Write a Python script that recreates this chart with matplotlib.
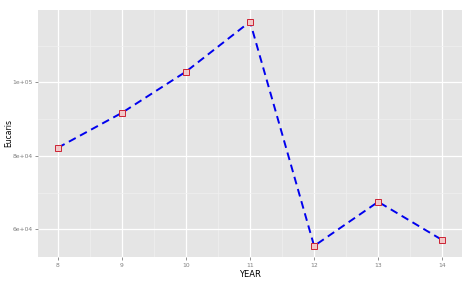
import matplotlib
matplotlib.use('Agg')
import matplotlib.pyplot as plt
from matplotlib.ticker import MultipleLocator

years = [8, 9, 10, 11, 12, 13, 14]
eucaris = [82200, 91700, 102900, 116500, 55500, 67500, 57100]
ytick_vals = [60000, 80000, 100000]
ytick_labels = ['6e+04', '8e+04', '1e+05']

fig = plt.figure(figsize=(4.74, 2.83), dpi=100)
ax = fig.add_axes([0.080, 0.092, 0.895, 0.873])
ax.set_facecolor('#e5e5e5')
for s in ax.spines.values():
    s.set_visible(False)

ax.plot(years, eucaris, color='#0000ee', linestyle=(0, (4, 2.5)), linewidth=1.4, zorder=3)
ax.plot(years, eucaris, linestyle='none', marker='s', markersize=4.5,
        markerfacecolor='#f2c8c8', markeredgecolor='#cc2233', markeredgewidth=0.7, zorder=4)

ax.set_xlim(7.69, 14.31)
ax.set_ylim(52500, 119700)
ax.set_xticks(years)
ax.set_yticks(ytick_vals)
ax.set_yticklabels(ytick_labels)
ax.xaxis.set_minor_locator(MultipleLocator(0.5))
ax.yaxis.set_minor_locator(MultipleLocator(10000))
ax.grid(which='major', color='white', linewidth=0.9)
ax.grid(which='minor', color='#f0f0f0', linewidth=0.5)
ax.set_axisbelow(True)
ax.tick_params(which='major', labelsize=4.3, colors='#7f7f7f', length=2.5, width=0.6, pad=1.5)
ax.tick_params(which='minor', length=0)

ax.set_xlabel('YEAR', fontsize=6, labelpad=2)
ax.set_ylabel('Eucaris', fontsize=5.5)
ax.yaxis.set_label_coords(-0.057, 0.5)

fig.savefig('out.png', dpi=100)
